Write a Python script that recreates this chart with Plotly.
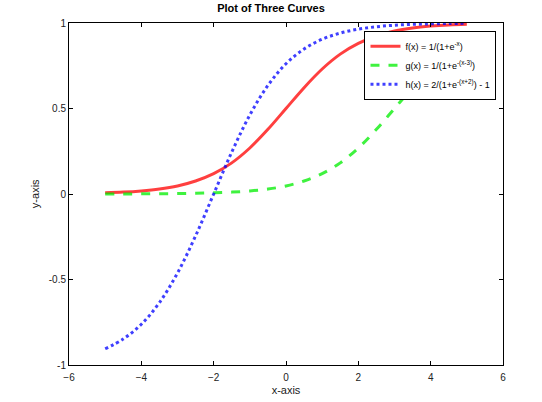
import plotly.graph_objects as go

x = [-5, -4.5, -4, -3.5, -3, -2.5, -2, -1.5, -1, -0.5, 0,
     0.5, 1, 1.5, 2, 2.5, 3, 3.5, 4, 4.5, 5]
f_vals = [0.007, 0.011, 0.018, 0.029, 0.047, 0.076, 0.119, 0.182, 0.269, 0.378, 0.5,
          0.622, 0.731, 0.818, 0.881, 0.924, 0.953, 0.971, 0.982, 0.989, 0.993]
g_vals = [0.0003, 0.0006, 0.0009, 0.0015, 0.0025, 0.0041, 0.0067, 0.011, 0.018, 0.029, 0.047,
          0.076, 0.119, 0.182, 0.269, 0.378, 0.5, 0.622, 0.731, 0.818, 0.881]
h_vals = [-0.905, -0.848, -0.762, -0.635, -0.462, -0.245, 0.0, 0.245, 0.462, 0.635, 0.762,
          0.848, 0.905, 0.941, 0.964, 0.978, 0.987, 0.992, 0.995, 0.997, 0.998]

names = ["f(x) = 1/(1+e<sup>-x</sup>)",
         "g(x) = 1/(1+e<sup>-(x-3)</sup>)",
         "h(x) = 2/(1+e<sup>-(x+2)</sup>) - 1"]

x_ticks = [-6, -4, -2, 0, 2, 4, 6]
y_ticks = [-1, -0.5, 0, 0.5, 1]
y_labels = ["-1", "-0.5", "0", "0.5", "1"]

fig = go.Figure()
fig.add_trace(go.Scatter(x=x, y=f_vals, mode="lines", name=names[0], opacity=0.75,
                         line=dict(color="#ff0000", width=3, shape="spline")))
fig.add_trace(go.Scatter(x=x, y=g_vals, mode="lines", name=names[1], opacity=0.75,
                         line=dict(color="#00ee00", width=3, dash="dash", shape="spline")))
fig.add_trace(go.Scatter(x=x, y=h_vals, mode="lines", name=names[2], opacity=0.75,
                         line=dict(color="#0000ff", width=3, dash="dot", shape="spline")))

axis_style = dict(showgrid=False, zeroline=False, showline=True, linecolor="black",
                  linewidth=1, mirror="ticks", ticks="inside", ticklen=4,
                  tickcolor="black", tickfont=dict(size=10, color="#222"),
                  automargin=False)

fig.update_layout(
    template="none",
    width=542, height=402,
    margin=dict(l=69, r=39, t=23, b=37),
    paper_bgcolor="white", plot_bgcolor="white",
    font=dict(family="Liberation Sans, Arial, sans-serif", size=10, color="#222"),
    title=dict(text="<b>Plot of Three Curves</b>", x=0.5, xanchor="center",
               y=0.99, yanchor="top", font=dict(size=11, color="black")),
    xaxis=dict(range=[-6, 6], tickvals=x_ticks, ticklabelstandoff=3,
               title=dict(text="x-axis", standoff=4, font=dict(size=11)), **axis_style),
    yaxis=dict(range=[-1, 1], tickvals=y_ticks, ticktext=y_labels, **axis_style),
    legend=dict(x=0.985, y=0.977, xanchor="right", yanchor="top",
                bgcolor="white", bordercolor="black", borderwidth=1,
                font=dict(size=9, color="black"), itemwidth=30, tracegroupgap=0),
    showlegend=True,
)

# y title as an annotation so it can sit closer to the tick labels
fig.add_annotation(text="y-axis", xref="paper", yref="paper", x=-0.078, y=0.5,
                   textangle=-90, showarrow=False, xanchor="center", yanchor="middle",
                   font=dict(size=11, color="#222"))

# drop the default 8px page margin so the figure sits at the top-left corner
fig.write_html("out.html", config={"displayModeBar": False},
               post_script="document.body.style.margin='0';")
